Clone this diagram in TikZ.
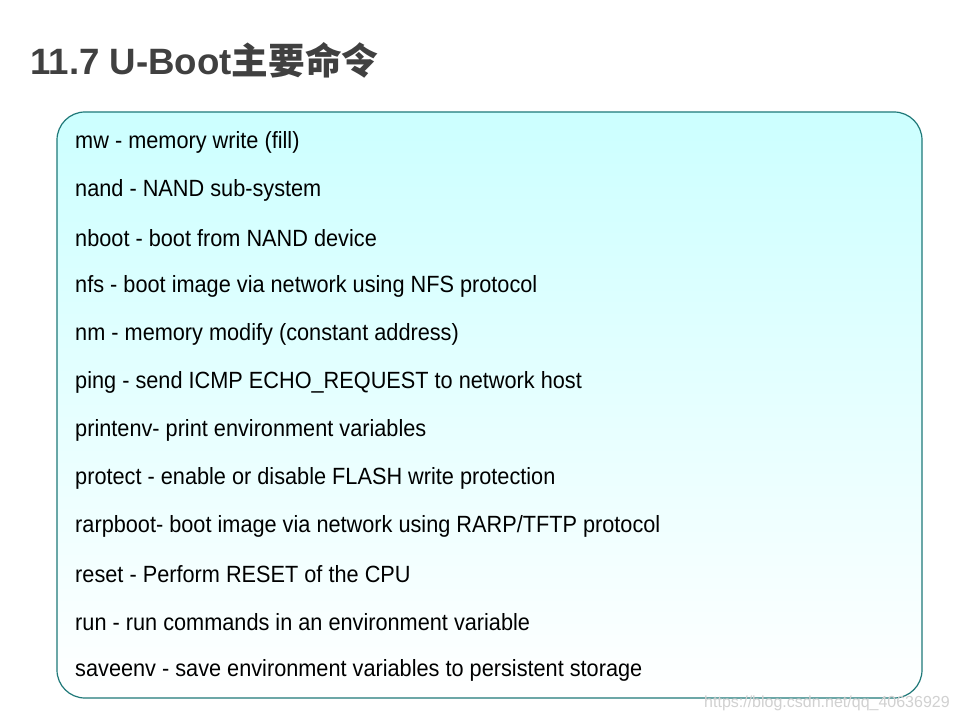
\documentclass[tikz,border=0pt]{standalone}
\usepackage{fontspec}
\setmainfont{Liberation Sans}
\newfontfamily\cjk{Noto Sans CJK SC}
\begin{document}
\begin{tikzpicture}[x=0.75pt,y=-0.75pt,
  item/.style={anchor=west,inner sep=0pt,font=\fontsize{17.6}{20}\selectfont,xscale=0.925,text=black}]
\useasboundingbox (0,0) rectangle (960,720);
\fill[white] (0,0) rectangle (960,720);
\node[anchor=west,inner sep=0pt,text=black!75] (title) at (30,60) {\fontsize{27.5}{30}\selectfont\bfseries 11.7 U-Boot{\cjk 主要命令}};
\shade[top color=cyan!20,bottom color=white,rounded corners=21pt] (57,112) rectangle (922,698);
\draw[draw={rgb,255:red,30;green,120;blue,120},line width=0.9pt,rounded corners=21pt] (57,112) rectangle (922,698);
\foreach \t [count=\i] in {mw - memory write (fill),nand - NAND sub-system,nboot - boot from NAND device,nfs - boot image via network using NFS protocol,nm - memory modify (constant address),ping - send ICMP ECHO\_REQUEST to network host,printenv- print environment variables,protect - enable or disable FLASH write protection,rarpboot- boot image via network using RARP/TFTP protocol,reset - Perform RESET of the CPU,run - run commands in an environment variable,saveenv - save environment variables to persistent storage}
  \node[item] (l\i) at (75,{142+48*(\i-1)}) {\t};
\node[anchor=east,inner sep=0pt,text=black!18,font=\fontsize{12}{14}\selectfont] (wm) at (950,703) {https://blog.csdn.net/qq\_40636929};
\end{tikzpicture}
\end{document}
